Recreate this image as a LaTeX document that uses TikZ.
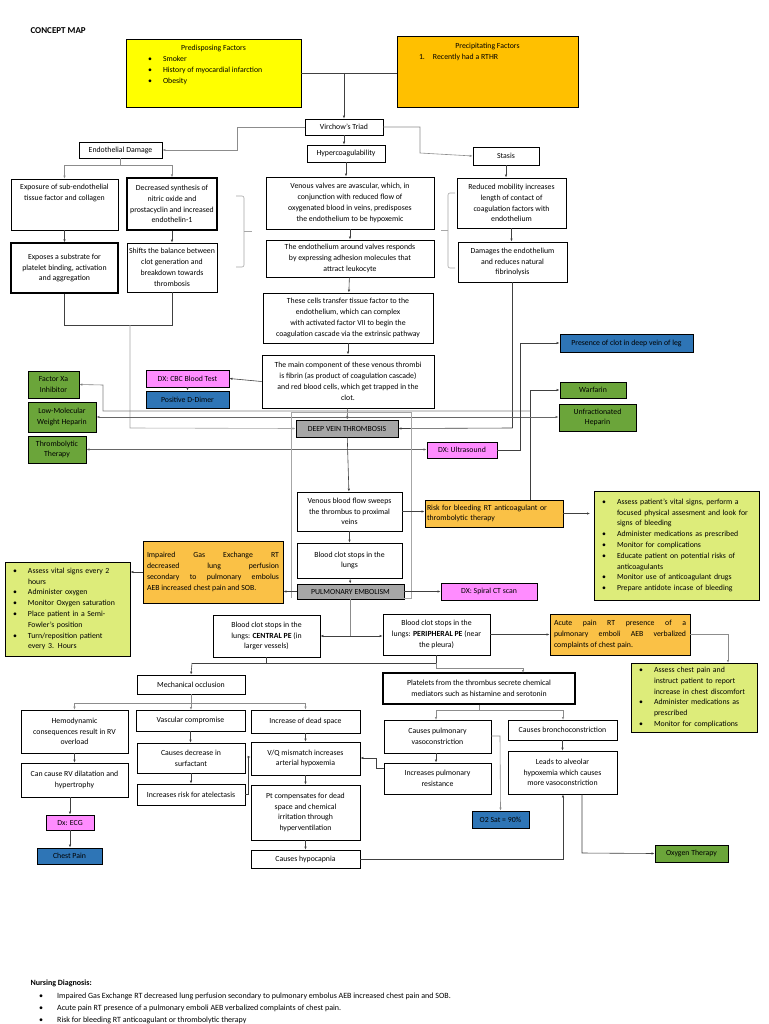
\documentclass[tikz,border=0pt]{standalone}
\usepackage{fontspec}
\setmainfont{Carlito}
\usetikzlibrary{arrows.meta, positioning}

\definecolor{predisYellow}{RGB}{255,255,0}
\definecolor{precipOrange}{RGB}{255,192,0}
\definecolor{nurseOrange}{RGB}{250,193,70}
\definecolor{careGreen}{RGB}{221,236,122}
\definecolor{medGreen}{RGB}{107,165,58}
\definecolor{dxPink}{RGB}{255,140,255}
\definecolor{resBlue}{RGB}{46,117,182}
\definecolor{dvtGray}{RGB}{166,166,166}

\newcommand{\boxfont}{\fontsize{7.8}{10.8}\selectfont}
\newcommand{\bul}{\hspace*{6pt}\makebox[15pt][l]{\textbullet}}
\newcommand{\hang}{\hspace*{21pt}}

\begin{document}
\begin{tikzpicture}[x=1pt, y=-1pt,
    box/.style={draw, rectangle, fill=white, line width=0.6pt, align=center, inner sep=1pt, font=\boxfont},
    heavy/.style={box, line width=1.2pt},
    dxbox/.style={box, fill=dxPink, line width=0.8pt},
    resbox/.style={box, fill=resBlue, line width=0.8pt},
    medbox/.style={box, fill=medGreen, line width=0.8pt},
    nursebox/.style={box, fill=nurseOrange, line width=0.8pt},
    carebox/.style={box, fill=careGreen, align=left, line width=0.8pt},
    eventbox/.style={box, fill=dvtGray, line width=0.8pt},
    arrow/.style={-{Latex[length=3pt,width=2.4pt]}, line width=0.6pt, draw=black!75},
    dblarrow/.style={{Latex[length=3pt,width=2.4pt]}-{Latex[length=3pt,width=2.4pt]}, line width=0.6pt, draw=black!60},
    link/.style={line width=0.6pt, draw=black!75},
    faint/.style={line width=0.6pt, draw=black!35},
]
\useasboundingbox[fill=white] (0,0) rectangle (768,1024);

% Title and factors
\node[anchor=west, font=\fontsize{9}{11}\selectfont\bfseries] (title) at (27,31) {CONCEPT MAP};
\node[box, fill=predisYellow, minimum width=175pt, minimum height=68pt, inner sep=0pt] (predis) at (213.5,73)
  {\parbox[c][64pt][t]{171pt}{\centering\rule{0pt}{10pt}Predisposing Factors\par\raggedright
   \hspace*{14pt}\bul Smoker\\ \hspace*{14pt}\bul History of myocardial infarction\\ \hspace*{14pt}\bul Obesity}};
\node[box, fill=precipOrange, minimum width=181pt, minimum height=71pt, inner sep=0pt] (precip) at (487.5,71.5)
  {\parbox[c][67pt][t]{177pt}{\centering\rule{0pt}{11pt}Precipitating Factors\par\raggedright
   \hspace*{20pt}\makebox[14pt][l]{1.}Recently had a RTHR}};

% Virchow's triad
\node[box, minimum width=78pt, minimum height=16pt] (virchow) at (344,127) {Virchow's Triad};
\node[box, minimum width=83pt, minimum height=16pt] (endo) at (120.5,150) {Endothelial Damage};
\node[box, minimum width=78pt, minimum height=17pt] (hyper) at (346,153.5) {Hypercoagulability};
\node[box, minimum width=66pt, minimum height=18pt] (stasis) at (506,156) {Stasis};

% Endothelial damage column
\node[box, minimum width=107pt, minimum height=51pt] (exposure) at (64.5,204.5) {Exposure of sub-endothelial\\tissue factor and collagen\\[14pt]};
\node[heavy, minimum width=90pt, minimum height=52pt] (decreased) at (172,204) {Decreased synthesis of\\nitric oxide and\\prostacyclin and increased\\endothelin-1};
\node[heavy, minimum width=107pt, minimum height=50pt] (exposes) at (64.5,268) {Exposes a substrate for\\platelet binding, activation\\and aggregation};
\node[box, minimum width=90pt, minimum height=49pt] (shifts) at (172,267.5) {Shifts the balance between\\clot generation and\\breakdown towards\\thrombosis};

% Hypercoagulability column
\node[heavy, line width=0.9pt, minimum width=168pt, minimum height=52pt] (venous) at (350,203) {Venous valves are avascular, which, in\\conjunction with reduced flow of\\oxygenated blood in veins, predisposes\\the endothelium to be hypoxemic};
\node[heavy, line width=0.9pt, minimum width=168pt, minimum height=37pt] (endoth) at (350,258.5) {The endothelium around valves responds\\by expressing adhesion molecules that\\attract leukocyte};
\node[heavy, line width=0.9pt, minimum width=170pt, minimum height=50pt] (cells) at (348,318) {These cells transfer tissue factor to the\\endothelium, which can complex\\with activated factor VII to begin the\\coagulation cascade via the extrinsic pathway};
\node[heavy, line width=0.9pt, minimum width=172pt, minimum height=53pt] (maincomp) at (348,381.5) {The main component of these venous thrombi\\is fibrin (as product of coagulation cascade)\\and red blood cells, which get trapped in the\\clot.};

% Stasis column
\node[heavy, line width=0.9pt, minimum width=109pt, minimum height=50pt] (reduced) at (511.5,203) {Reduced mobility increases\\length of contact of\\coagulation factors with\\endothelium};
\node[heavy, line width=0.9pt, minimum width=109pt, minimum height=40pt] (damages) at (512.5,262) {Damages the endothelium\\and reduces natural\\fibrinolysis};

% DVT and its findings
\node[eventbox, minimum width=102pt, minimum height=17pt] (dvt) at (347,428.5) {DEEP VEIN THROMBOSIS};
\node[resbox, minimum width=133pt, minimum height=18pt] (presence) at (626.5,343) {Presence of clot in deep vein of leg};
\node[dxbox, minimum width=83pt, minimum height=17pt] (cbc) at (187.5,378.5) {DX: CBC Blood Test};
\node[resbox, minimum width=83pt, minimum height=17pt] (ddimer) at (187.5,399.5) {Positive D-Dimer};
\node[medbox, minimum width=51pt, minimum height=27pt] (factorxa) at (53.5,384.5) {Factor Xa\\Inhibitor};
\node[medbox, minimum width=68pt, minimum height=30pt] (lmwh) at (62,417) {Low-Molecular\\Weight Heparin};
\node[medbox, minimum width=58pt, minimum height=27pt] (thrombolytic) at (57,449.5) {Thrombolytic\\Therapy};
\node[medbox, minimum width=66pt, minimum height=16pt] (warfarin) at (593,390) {Warfarin};
\node[medbox, minimum width=77pt, minimum height=27pt] (ufh) at (597.5,417.5) {Unfractionated\\Heparin};
\node[dxbox, minimum width=70pt, minimum height=16pt] (ultrasound) at (462,450) {DX: Ultrasound};

% Towards the lungs
\node[box, minimum width=105pt, minimum height=39pt] (sweeps) at (349.5,511.5) {Venous blood flow sweeps\\the thrombus to proximal\\veins};
\node[box, minimum width=105pt, minimum height=35pt] (clotlungs) at (349.5,560.5) {Blood clot stops in the\\lungs};
\node[eventbox, minimum width=107pt, minimum height=15pt] (pe) at (350.5,591.5) {PULMONARY EMBOLISM};
\node[dxbox, minimum width=96pt, minimum height=17pt] (spiralct) at (489,591.5) {DX: Spiral CT scan};
\node[nursebox, minimum width=138pt, minimum height=27pt, text width=134pt, align=left] (bleedrisk) at (494,513.5) {Risk for bleeding RT anticoagulant or\\thrombolytic therapy};
\node[carebox, minimum width=165pt, minimum height=109pt, text width=161pt] (bleedcare) at (676.5,545.5)
  {\bul Assess patient's vital signs, perform a\\ \hang focused physical assesment and look for\\ \hang signs of bleeding\\
   \bul Administer medications as prescribed\\ \bul Monitor for complications\\
   \bul Educate patient on potential risks of\\ \hang anticoagulants\\
   \bul Monitor use of anticoagulant drugs\\ \bul Prepare antidote incase of bleeding};
\node[nursebox, minimum width=140pt, minimum height=62pt, text width=132pt, align=justify] (gasx) at (213,572)
  {Impaired Gas Exchange RT\linebreak decreased lung perfusion\linebreak secondary to pulmonary embolus\linebreak AEB increased chest pain and SOB.};
\node[carebox, minimum width=125pt, minimum height=94pt, text width=121pt] (gascare) at (67.5,609)
  {\bul Assess vital signs every 2\\ \hang hours\\ \bul Administer oxygen\\ \bul Monitor Oxygen saturation\\
   \bul Place patient in a Semi-\\ \hang Fowler's position\\ \bul Turn/reposition patient\\ \hang every 3. Hours};

% Central and peripheral PE
\node[box, minimum width=107pt, minimum height=42pt] (central) at (266.5,636) {Blood clot stops in the\\lungs: \textbf{CENTRAL PE} (in\\larger vessels)};
\node[box, minimum width=107pt, minimum height=41pt] (peripheral) at (436.5,634.5) {Blood clot stops in the\\lungs: \textbf{PERIPHERAL PE} (near\\the pleura)};
\node[nursebox, minimum width=140pt, minimum height=41pt, text width=132pt, align=justify] (acute) at (620,634.5)
  {Acute pain RT presence of a\linebreak pulmonary emboli AEB verbalized\linebreak complaints of chest pain.};
\node[carebox, minimum width=126pt, minimum height=69pt, text width=122pt] (paincare) at (694,697.5)
  {\bul Assess chest pain and\\ \hang instruct patient to report\\ \hang increase in chest discomfort\\
   \bul Administer medications as\\ \hang prescribed\\ \bul Monitor for complications};

% Mechanical occlusion branch
\node[box, minimum width=108pt, minimum height=19pt] (mech) at (191,684.5) {Mechanical occlusion};
\node[box, minimum width=107pt, minimum height=43pt] (hemo) at (74.5,731.5) {Hemodynamic\\consequences result in RV\\overload};
\node[box, minimum width=109pt, minimum height=21pt] (vascular) at (190.5,720.5) {Vascular compromise};
\node[heavy, line width=0.9pt, minimum width=109pt, minimum height=23pt] (deadspace) at (305.5,721.5) {Increase of dead space};
\node[box, minimum width=107pt, minimum height=34pt] (rvdil) at (74.5,780) {Can cause RV dilatation and\\hypertrophy};
\node[box, minimum width=108pt, minimum height=30pt] (surfactant) at (191,758) {Causes decrease in\\surfactant};
\node[box, minimum width=108pt, minimum height=21pt] (atelect) at (191,794.5) {Increases risk for atelectasis};
\node[box, minimum width=109pt, minimum height=33pt] (vq) at (305.5,758.5) {V/Q mismatch increases\\arterial hypoxemia};
\node[box, minimum width=109pt, minimum height=55pt] (ptcomp) at (305.5,812.5) {Pt compensates for dead\\space and chemical\\irritation through\\hyperventilation};
\node[box, minimum width=109pt, minimum height=18pt] (hypocap) at (305.5,859) {Causes hypocapnia};
\node[dxbox, minimum width=48pt, minimum height=15pt] (ecg) at (70,822.5) {Dx: ECG};
\node[resbox, minimum width=65pt, minimum height=16pt] (chestpain) at (69.5,856) {Chest Pain};

% Chemical mediator branch
\node[heavy, minimum width=192pt, minimum height=31pt] (platelets) at (479,688.5) {Platelets from the thrombus secrete chemical\\mediators such as histamine and serotonin};
\node[heavy, line width=0.9pt, minimum width=107pt, minimum height=33pt] (vasocon) at (437.5,736.5) {Causes pulmonary\\vasoconstriction};
\node[box, minimum width=109pt, minimum height=20pt] (broncho) at (562.5,730) {Causes bronchoconstriction};
\node[heavy, line width=0.9pt, minimum width=107pt, minimum height=31pt] (resistance) at (437.5,778.5) {Increases pulmonary\\resistance};
\node[box, minimum width=109pt, minimum height=43pt] (alveolar) at (562.5,772.5) {Leads to alveolar\\hypoxemia which causes\\more vasoconstriction};
\node[resbox, minimum width=57pt, minimum height=17pt] (otwosat) at (500.5,819.5) {O2 Sat = 90\%};
\node[medbox, minimum width=73pt, minimum height=17pt] (oxytherapy) at (691.5,853.5) {Oxygen Therapy};

% Nursing diagnosis list
\node[anchor=west, font=\fontsize{8}{10}\selectfont\bfseries] (nursetitle) at (27,983) {Nursing Diagnosis:};
\node[anchor=north west, align=left, inner sep=0pt, font=\fontsize{8}{12}\selectfont] (nurselist) at (39,993)
  {\makebox[18pt][l]{\textbullet}Impaired Gas Exchange RT decreased lung perfusion secondary to pulmonary embolus AEB increased chest pain and SOB.\\
   \makebox[18pt][l]{\textbullet}Acute pain RT presence of a pulmonary emboli AEB verbalized complaints of chest pain.\\
   \makebox[18pt][l]{\textbullet}Risk for bleeding RT anticoagulant or thrombolytic therapy};

% Paths: factors to triad
\coordinate (pjoin) at (344,73);
\draw[link] (predis.east) -- (precip.west |- predis.east);
\draw[arrow] (pjoin) -- (virchow.north);
\draw[arrow, draw=black!45] (virchow.west) -- (237,127) -- (237,150) -- (endo.east);
\draw[arrow, draw=black!45] (virchow.east) -- (420,127) -- (420,153) -- (stasis.west);
\draw[arrow] (virchow.south) -- (virchow.south |- hyper.north);

% endothelial damage
\draw[link, draw=black!45] (endo.south) -- (120.5,165);
\draw[arrow, draw=black!45] (120.5,165) -- (64.5,165) -- (exposure.north);
\draw[arrow, draw=black!45] (120.5,165) -- (172,165) -- (decreased.north);
\draw[arrow] (exposure) -- (exposes);
\draw[arrow] (decreased) -- (shifts);
\draw[link] (exposes.south) -- (64.5,325) -- (172,325) -- (shifts.south);
\draw[arrow, draw=black!35] (130,325) -- (130,428) -- (dvt.west);
\draw[faint, rounded corners=2pt] (236,196) -- (244,196) -- (244,267) -- (236,267);
\draw[faint] (244,231) -- (252,231);

% hypercoagulability
\draw[arrow] (hyper) -- (hyper.south |- venous.north);
\draw[arrow] (venous) -- (endoth);
\draw[arrow] (endoth) -- (cells);
\draw[arrow] (cells) -- (maincomp);
\draw[arrow] (maincomp) -- (dvt);
\draw[arrow] (maincomp.west) -- (cbc.east);
\draw[arrow] (cbc) -- (ddimer);

% stasis
\draw[arrow] (stasis) -- (stasis.south |- reduced.north);
\draw[arrow] (reduced) -- (reduced.south |- damages.north);
\draw[link] (damages.south) -- (512.5,428);
\draw[arrow] (512.5,428) -- (dvt.east);
\draw[faint, rounded corners=2pt] (455,193) -- (448,193) -- (448,268) -- (455,268);
\draw[faint] (448,230) -- (441,230);

% treatments and diagnostics of DVT
\coordinate (wjoin) at (530,390);
\draw[arrow] (bleedrisk.north -| wjoin) -- (wjoin) -- (warfarin.west);
\draw[arrow, draw=black!50] (wjoin |- 0,411) -- (103,411) -- (103,385) -- (factorxa.east);
\draw[dblarrow] (lmwh.east) -- (lmwh.east -| ufh.west);
\draw[dblarrow] (thrombolytic.east) -- (thrombolytic.east -| ultrasound.west);
\draw[arrow] (ultrasound.east) -- (520,450) -- (520,343) -- (presence.west);
\draw[faint] (291,598) -- (291,412) -- (411,412) -- (411,598) -- (404,598);

% towards pulmonary embolism
\draw[arrow] (dvt) -- (sweeps);
\draw[arrow] (sweeps) -- (clotlungs);
\draw[arrow] (clotlungs) -- (pe);
\draw[arrow] (sweeps.east) -- (bleedrisk.west |- sweeps.east);
\draw[arrow] (bleedrisk.east) -- (590,513.5);
\draw[arrow] (pe.west) -- (gasx.east |- pe.west);
\draw[arrow] (gasx.west) -- (gascare.east |- gasx.west);
\draw[arrow] (pe.east) -- (spiralct.west);

% central and peripheral
\coordinate (pesplit) at (350.5,636);
\draw[link, draw=black!45] (pe.south) -- (pesplit);
\draw[arrow] (pesplit) -- (central.east |- pesplit);
\draw[arrow] (pesplit) -- (peripheral.west |- pesplit);
\draw[arrow] (peripheral.east) -- (acute.west);
\draw[arrow, draw=black!45] (acute.east) -- (728,634.5) -- (728,663);
\draw[link] (central.south) -- (266.5,663);
\draw[link] (192,663) -- (436.5,663) -- (peripheral.south);
\draw[arrow] (192,663) -- (mech.north);
\draw[arrow, draw=black!45] (436.5,663) -- (436.5,668) -- (523,668) -- (523,673);

% mechanical occlusion
\draw[link, draw=black!45] (mech.south) -- (191,703);
\draw[arrow, draw=black!45] (74.5,703) -- (hemo.north);
\draw[arrow, draw=black!45] (74.5,703) -- (305.5,703) -- (deadspace.north);
\draw[arrow, draw=black!45] (191,703) -- (191,710);
\draw[arrow] (hemo) -- (rvdil);
\draw[arrow] (70,797) -- (ecg.north);
\draw[arrow] (ecg) -- (ecg |- chestpain.north);
\draw[arrow] (vascular) -- (vascular.south |- surfactant.north);
\draw[arrow] (surfactant) -- (atelect);
\draw[arrow] (atelect.east) -- (248,794.5) -- (248,757) -- (vq.west |- 0,757);
\draw[arrow] (deadspace) -- (vq);
\draw[arrow] (vq) -- (ptcomp);
\draw[arrow] (ptcomp) -- (hypocap);
\draw[arrow] (hypocap.east) -- (563,859) -- (alveolar.south -| 563,0);

% chemical mediators
\draw[link, draw=black!45] (platelets.south) -- (479,710);
\draw[arrow, draw=black!45] (436,710) -- (563,710) -- (563,720);
\draw[arrow, draw=black!45] (436,710) -- (436,720);
\draw[arrow] (vasocon.south -| 436,0) -- (resistance.north -| 436,0);
\draw[arrow] (broncho) -- (alveolar);
\draw[arrow] (resistance.west |- 0,768) -- (376,768) -- (376,758) -- (vq.east |- 0,758);
\draw[arrow, draw=black!45] (vasocon.east |- 0,736) -- (500,736) -- (otwosat.north);
\draw[arrow] (alveolar.south -| 582,0) -- (582,853) -- (oxytherapy.west);

\end{tikzpicture}
\end{document}
